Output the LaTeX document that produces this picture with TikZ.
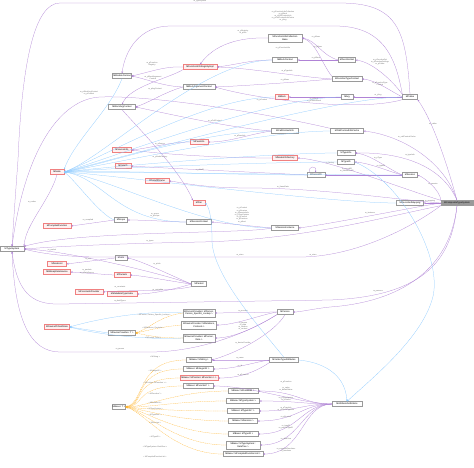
\documentclass[tikz,border=0pt]{standalone}
\usepackage{fontspec}
\setmainfont{Liberation Sans}
\usetikzlibrary{arrows.meta}
\definecolor{pcol}{HTML}{B083D6}
\definecolor{bcol}{HTML}{8CCBFF}
\definecolor{ycol}{HTML}{FFB733}
\definecolor{rbd}{HTML}{F08080}
\definecolor{rfill}{HTML}{FFF0F0}
\definecolor{nbd}{HTML}{9A9A9A}
\definecolor{gfill}{HTML}{999999}
\definecolor{lblc}{HTML}{707070}
\begin{document}
\begin{tikzpicture}[x=1pt,y=-1pt,
 nb/.style={draw=nbd,fill=white,line width=0.25pt,inner sep=0.3pt,minimum height=5pt,font={\fontsize{2.3}{2.7}\selectfont},align=center},
 rn/.style={nb,draw=rbd,fill=rfill},
 gn/.style={nb,draw=nbd,fill=gfill},
 pe/.style={draw=pcol,line width=0.25pt,-{Stealth[length=2pt,width=1.6pt]}},
 be/.style={draw=bcol,line width=0.25pt,-{Stealth[length=2pt,width=1.6pt]}},
 ye/.style={draw=ycol,line width=0.25pt,dash pattern=on 1.2pt off 0.6pt,-{Stealth[length=2pt,width=1.6pt]}},
 lbl/.style={font={\fontsize{1.9}{2.2}\selectfont},text=lblc,inner sep=0,align=center}]
\useasboundingbox[fill=white] (0,0) rectangle (474,467);

% ---------------- nodes ----------------
\node[nb,minimum width=19pt] (n1) at (122,76) {MModuleContext};
\node[rn,minimum width=34pt] (n2) at (200,67) {MFunctionInfoRegistryImpl};
\node[nb,minimum width=34pt,minimum height=8pt] (n3) at (285,38) {MFunctionInfoCollection\\Base};
\node[nb,minimum width=17pt] (n4) at (347,60) {MFunctionSet};
\node[nb,minimum width=25pt] (n5) at (285,60) {MBlockContext};
\node[nb,minimum width=30pt] (n6) at (347,79) {MFunctionTypeContext};
\node[nb,minimum width=32pt] (n7) at (199,87) {MBlockArgumentContext};
\node[nb,minimum width=27pt] (n8) at (122,107) {MBlockArgContext};
\node[rn,minimum width=13pt] (n9) at (282,97) {MBlock};
\node[nb,minimum width=12pt] (n10) at (347,97) {MArg};
\node[nb,minimum width=15pt] (n11) at (410,97) {MCallee};
\node[nb,minimum width=27pt] (n12) at (285,131) {MCallContextInfo};
\node[nb,minimum width=33pt] (n13) at (347,131) {MCallContextInfoCache};
\node[rn,minimum width=19pt] (n14) at (122,150) {MSourceInfo};
\node[rn,minimum width=18pt] (n15) at (199,142) {MPassInfo};
\node[nb,minimum width=18pt] (n16) at (346,153) {MTypeInfo};
\node[rn,minimum width=25pt] (n17) at (285,158) {MNodeInfoFactory};
\node[nb,minimum width=17pt] (n18) at (346,162) {MTypeID};
\node[rn,minimum width=14pt] (n19) at (57,172) {MNode};
\node[rn,minimum width=16pt] (n20) at (123,166) {MDataID};
\node[rn,minimum width=24pt] (n21) at (157,181) {MDataOfFrame};
\node[nb,minimum width=18pt] (n22) at (316,175) {MRecordID};
\node[nb,minimum width=15pt] (n23) at (410,175) {MSession};
\node[rn,minimum width=12pt] (n24) at (199,203) {MPair};
\node[nb,minimum width=27pt] (n25) at (410,203) {MRecordedMapping};
\node[gn,minimum width=32pt] (n26) at (457,203) {MCompositeTypeSystem};
\node[nb,minimum width=25pt] (n27) at (199,222) {MSessionContext};
\node[nb,minimum width=13pt] (n28) at (121,220) {MScope};
\node[nb,minimum width=27pt] (n29) at (285,228) {MSessionInstance};
\node[rn,minimum width=28pt] (n30) at (57,226) {MCompiledFunction};
\node[nb,minimum width=24pt] (n31) at (12,249) {MTypeSystem};
\node[nb,minimum width=12pt] (n32) at (121,258) {MLink};
\node[rn,minimum width=19pt] (n33) at (57,264) {MNodeList};
\node[rn,minimum width=27pt] (n34) at (57,272) {MBitmapDataSource};
\node[rn,minimum width=16pt] (n35) at (122,275) {MPackets};
\node[nb,minimum width=15pt] (n36) at (199,284) {MPacket};
\node[rn,minimum width=28pt] (n37) at (89,292) {MConstantsProvider};
\node[rn,minimum width=30pt] (n38) at (122,294) {MMetadataTypeIndex};
\node[nb,minimum width=16pt] (n39) at (285,312) {MPerson};
\node[nb,minimum width=32pt,minimum height=8pt] (n40) at (199,313) {MPersonProvider\textless{} MPerson,\\Person\_Specific\_Lookup \textgreater};
\node[nb,minimum width=35pt,minimum height=8pt] (n41) at (199,325) {MDeviceProvider\textless{} MRelations,\\Contexts \textgreater};
\node[nb,minimum width=32pt,minimum height=8pt] (n42) at (199,338) {MDeviceProvider\textless{} MPerson,\\Data \textgreater};
\node[rn,minimum width=25pt] (n43) at (57,327) {MDevicePtrFwdState};
\node[nb,minimum width=27pt] (n44) at (122,333) {MDeviceProvider\textless{} T \textgreater};
\node[nb,minimum width=29pt] (n45) at (284,360) {MVertexTypeAttributes};
\node[nb,minimum width=25pt] (n46) at (199,360) {MBase\textless{} MString \textgreater};
\node[nb,minimum width=30pt] (n47) at (198,369) {MBase\textless{} MInteger32 \textgreater};
\node[rn,minimum width=38pt] (n48) at (199,378) {MBase\textless{} MPointer\textless{} MFunction \textgreater{} \textgreater};
\node[nb,minimum width=30pt] (n49) at (198,386) {MBase\textless{} MFunction* \textgreater};
\node[nb,minimum width=30pt] (n50) at (243,391) {MBase\textless{} MDouble64 \textgreater};
\node[nb,minimum width=33pt] (n51) at (243,401) {MBase\textless{} MTypeSystem \textgreater};
\node[nb,minimum width=32pt] (n52) at (243,411) {MBase\textless{} MTypeInfo* \textgreater};
\node[nb,minimum width=29pt] (n53) at (243,421) {MBase\textless{} MSession \textgreater};
\node[nb,minimum width=30pt] (n54) at (243,434) {MBase\textless{} MTypeID \textgreater};
\node[nb,minimum width=34pt,minimum height=8pt] (n55) at (243,445) {MBase\textless{} MTypeSystem::\\DataTree \textgreater};
\node[nb,minimum width=40pt] (n56) at (243,454) {MBase\textless{} MCompiledFunctionList \textgreater};
\node[nb,minimum width=12pt] (n57) at (119,407) {MBase\textless{} T \textgreater};
\node[nb,minimum width=30pt] (n58) at (347,404) {MAttributeDefinitions};

% ---------------- top arcs ----------------
\draw[pe] (n11.north) .. controls (406,30) and (398,3) .. (340,3) -- (60,3) .. controls (35,3) and (22,60) .. (18,160) .. controls (15,200) and (13,230) .. (n31.north);
\node[lbl] at (200,1.3) {m\_typeSystem};
\draw[pe] (n11.north west) .. controls (396,60) and (385,26) .. (335,26) -- (170,26) .. controls (140,26) and (125,50) .. (n1.north);
\node[lbl] at (283,16) {m\_pFunctionInfoCollection\\m\_pBlock\\m\_pCallContextInfo\\m\_pCallContextInfoCache\\m\_pArg};
\draw[pe] (n11.north west) .. controls (392,80) and (372,62) .. (n4.east);
\node[lbl] at (380,62) {m\_pFunctionSet\\m\_pFunctionSetArgs\\m\_pCallee};
\draw[pe] (n11.west) .. controls (392,92) and (376,80) .. (n6.east);
\node[lbl] at (380,84) {m\_pFunctionType\\Context};
\draw[pe] (n11.west) -- (n10.east);
\node[lbl] at (378,95.5) {m\_pArg};
\draw[pe] (n10.west) -- (n9.east);
\node[lbl] at (314,100) {m\_pBlock\\m\_pParentBlock};
\draw[pe] (n11.south west) .. controls (360,112) and (260,100) .. (n7.east);
\node[lbl] at (262,100) {m\_pContext};
\draw[pe] (n4.west) .. controls (322,56) and (316,40) .. (n3.east);
\node[lbl] at (316,37) {m\_pBase};
\draw[pe] (n6.north west) .. controls (322,64) and (316,42) .. (n3.east);
\node[lbl] at (318,47) {m\_pBase};
\draw[pe] (n4.west) -- (n5.east);
\node[lbl] at (316,58.5) {m\_pBlock};
\draw[pe] (n3.west) .. controls (238,37) and (214,45) .. (n2.north);
\node[lbl] at (243,32) {m\_pRegistry\\m\_pInfo};
\draw[pe] (n6.west) .. controls (300,77) and (250,68) .. (n2.east);
\node[lbl] at (287,71) {m\_pTypeInfo};
\draw[pe] (n5.west) .. controls (250,60) and (240,64) .. (n2.east);
\node[lbl] at (283,48) {m\_pFunctionInfo};
\draw[pe] (n6.west) .. controls (300,82) and (240,86) .. (n7.east);
\node[lbl] at (285,80.5) {m\_pBase};
\draw[pe] (n2.west) .. controls (165,66) and (150,72) .. (n1.east);
\node[lbl] at (152,64) {m\_pFunction\\Registry};
\draw[pe] (n7.west) .. controls (162,86) and (150,80) .. (n1.east);
\node[lbl] at (153,77.5) {m\_pBlockArgument\\Context};
\draw[pe] (n7.west) .. controls (165,92) and (150,102) .. (n8.east);
\node[lbl] at (155,89) {m\_pArgContext};
\draw[pe] (n2.south west) .. controls (170,78) and (130,86) .. (n8.north);
\draw[pe] (n12.west) .. controls (230,128) and (160,112) .. (n8.east);
\node[lbl] at (215,121) {m\_pCallContext};
\draw[pe] (n13.north west) .. controls (260,112) and (150,95) .. (100,97) .. controls (60,99) and (25,150) .. (n31.north);
\node[lbl] at (89,93) {m\_pBlockArgContext\\m\_pContext};
\draw[pe] (n12.west) .. controls (250,134) and (230,142) .. (n15.east);
\node[lbl] at (240,136) {m\_pPassInfo};
\draw[pe] (n15.west) .. controls (170,142) and (150,148) .. (n14.east);
\node[lbl] at (160,144) {m\_pSource};
\draw[pe] (n17.west) .. controls (220,158) and (160,154) .. (n14.east);
\node[lbl] at (160,157.5) {m\_pNodeFactory};
\draw[pe] (n22.west) .. controls (250,172) and (160,168) .. (n20.east);
\node[lbl] at (200,170) {m\_dataID};
\draw[pe] (n8.south) .. controls (140,130) and (180,170) .. (n24.north west);

% ---------------- right part ----------------
\draw[pe] (n26.west) -- (n25.east);
\node[lbl] at (430,201) {m\_mapping};
\draw[pe] (n26.north west) .. controls (440,190) and (425,178) .. (n23.east);
\node[lbl] at (433,184) {m\_session};
\draw[pe] (n26.north) .. controls (446,160) and (432,120) .. (n11.south east);
\node[lbl] at (433,124) {m\_callee};
\draw[pe] (n26.north) .. controls (442,165) and (400,152) .. (n16.east);
\node[lbl] at (410,155) {m\_typeInfo};
\draw[pe] (n26.north) .. controls (444,160) and (400,135) .. (n13.east);
\node[lbl] at (407,137) {m\_callContextCache};
\draw[pe] (n23.west) .. controls (386,168) and (372,155) .. (n16.east);
\node[lbl] at (378,158) {m\_pType};
\draw[pe] (n23.west) .. controls (390,172) and (370,163) .. (n18.east);
\node[lbl] at (381,166) {m\_typeID};
\draw[pe] (n23.west) -- (n22.east);
\node[lbl] at (347,170) {m\_recordID\\m\_lastRecordID};
\draw[pe] ([xshift=-6pt]n22.north) .. controls +(-3,-7) and +(3,-7) .. ([xshift=-1pt]n22.north);
\draw[pe] (n26.north west) .. controls (400,188) and (330,160) .. (n17.east);
\node[lbl] at (330,163) {m\_factory};
\draw[pe] (n26.west) .. controls (400,200) and (320,188) .. (250,188) .. controls (200,188) and (180,182) .. (n21.east);
\node[lbl] at (283,187) {m\_frameData};
\draw[pe] (n26.west) .. controls (420,206) and (330,224) .. (n29.east);
\node[lbl] at (370,213) {m\_instance};
\draw[pe] (n29.west) -- (n27.east);
\node[lbl] at (242,215) {m\_pContext\\m\_pSession\\m\_pSessionInfo\\m\_pTypeSystem\\m\_pCurrent\\m\_pPrevious\\m\_pNext};
\draw[pe] (n27.west) .. controls (170,222) and (150,220) .. (n28.east);
\node[lbl] at (155,215) {m\_scope\\m\_pScope};
\draw[pe] (n28.west) -- (n30.east);
\node[lbl] at (88,220) {m\_compiled};
\draw[pe] (n19.south) .. controls (50,200) and (25,225) .. (n31.north east);
\node[lbl] at (32,202) {m\_nodes};
\draw[pe] (n29.west) .. controls (250,234) and (80,230) .. (n31.north east);
\draw[pe] (n26.south west) .. controls (380,218) and (300,240) .. (200,242) .. controls (100,244) and (50,247) .. (n31.east);
\node[lbl] at (150,241) {m\_types};
\draw[pe] (n26.south west) .. controls (405,232) and (350,257) .. (300,257) -- (100,257) .. controls (60,257) and (35,252) .. (n31.east);
\node[lbl] at (240,255) {m\_sizes};
\node[lbl] at (313,255) {m\_sizes};

% ---------------- middle left ----------------
\draw[pe] (n36.west) .. controls (150,270) and (60,250) .. (n31.east);
\node[lbl] at (52,250) {m\_packet};
\draw[pe] (n32.west) -- (n33.east);
\node[lbl] at (88,258.5) {m\_link};
\draw[pe] (n36.west) .. controls (172,276) and (140,260) .. (n32.east);
\node[lbl] at (157,264) {m\_pLink};
\draw[pe] (n35.west) -- (n34.east);
\node[lbl] at (87,271.5) {m\_packets\\m\_pDataSource};
\draw[pe] (n36.south west) .. controls (170,292) and (120,290) .. (n37.east);
\node[lbl] at (120,287) {m\_constants};
\draw[pe] (n36.west) .. controls (172,290) and (150,294) .. (n38.east);
\node[lbl] at (158,290) {m\_metadata};
\draw[pe] (n36.west) .. controls (175,282) and (145,276) .. (n35.east);
\draw[pe] (n26.south) .. controls (452,255) and (430,296) .. (330,300) -- (60,304) .. controls (30,305) and (17,290) .. (n31.south);
\node[lbl] at (120,301) {m\_dataTypes};
\draw[pe] (n26.south) .. controls (450,270) and (400,302) .. (330,307) .. controls (312,309) and (300,312) .. (n39.east);
\node[lbl] at (378,291) {m\_persons};
\draw[pe] (n39.south west) .. controls (250,332) and (200,352) .. (150,352) -- (60,352) .. controls (30,352) and (15,320) .. (n31.south);
\node[lbl] at (120,349.5) {m\_person};

% ---------------- provider part ----------------
\draw[pe] (n39.west) -- (n40.east);
\node[lbl] at (243,311) {m\_provider};
\draw[pe] (n39.west) .. controls (260,315) and (235,325) .. (n41.east);
\node[lbl] at (243,326) {m\_person\\m\_data\\m\_relation\\m\_context};
\draw[pe] (n39.south west) .. controls (260,325) and (235,338) .. (n42.east);
\node[lbl] at (243,343) {m\_deviceProvider};
\draw[pe] (n39.south) .. controls (275,332) and (240,352) .. (n46.east);
\draw[be] (n40.west) .. controls (150,310) and (100,318) .. (n43.east);
\draw[be] (n44.west) -- (n43.east);
\draw[be] (n42.west) .. controls (150,340) and (100,335) .. (n43.east);
\draw[ye] (n40.west) .. controls (160,316) and (150,328) .. (n44.east);
\node[lbl] at (154,315) {\textless{} MPerson, Person\_Specific\_Lookup \textgreater};
\draw[ye] (n41.west) .. controls (160,327) and (150,330) .. (n44.east);
\node[lbl] at (153,328) {\textless{} MRelations, Contexts \textgreater};
\draw[ye] (n42.west) .. controls (160,338) and (150,336) .. (n44.east);
\node[lbl] at (153,338) {\textless{} MPerson, Data \textgreater};

% ---------------- blue into hub ----------------
\draw[be] (n1.south) .. controls (110,110) and (75,140) .. (n19.north east);
\foreach \s/\dy in {n9/-15,n5/-14,n10/-12,n11/-10,n12/-8,n13/-7,n16/-5,n18/-4,n22/-2,n23/0,n25/2,n29/4,n27/6}
  \draw[be] (\s.west) .. controls +(-70,0) and +(40,\dy) .. (n19.east);
\draw[be] (n28.west) .. controls (100,215) and (75,180) .. (n19.east);

% ---------------- blue to bottom right ----------------
\draw[be] (n18.east) .. controls (400,180) and (445,260) .. (432,300) .. controls (420,340) and (370,380) .. (n58.north);
\draw[be] (n45.east) .. controls (320,362) and (345,372) .. (n58.north);
\draw[be] (n45.north) .. controls (262,330) and (212,275) .. (212,240) .. controls (212,222) and (210,208) .. (n24.east);

% ---------------- attribute definitions ----------------
\draw[pe] (n45.west) .. controls (255,360) and (230,360) .. (n46.east);
\node[lbl] at (240,358) {m\_name};
\draw[pe] (n45.west) .. controls (255,362) and (235,369) .. (n47.east);
\node[lbl] at (240,366) {m\_id};
\draw[pe] (n45.south west) .. controls (255,372) and (240,378) .. (n48.east);
\node[lbl] at (243,375) {m\_pFunction};
\foreach \t/\ly/\lt in {n49/382/{m\_pFunction}, n50/389/{m\_value\\m\_defaultValue}, n51/399/{m\_pTypeSystem\\m\_pOwner}, n52/409/{m\_pTypeInfo\\m\_pParentTypeInfo}, n53/417/{m\_pSession}, n54/427/{m\_typeID\\m\_parentTypeID}, n55/439/{m\_dataTree}, n56/450/{m\_compiledFunctions\\m\_functions}}{
  \draw[pe] (n58.west) .. controls +(-30,0) and +(40,0) .. (\t.east);
  \node[lbl] at (286,\ly) {\lt};
}

% ---------------- template instances ----------------
\foreach \t/\dy/\ly/\lt in {n46/-6/357/{\textless{} MString \textgreater}, n47/-4/371/{\textless{} MInteger32 \textgreater}, n48/-2/383/{\textless{} MPointer\textless{} MFunction \textgreater{} \textgreater}, n49/-1/394/{\textless{} MFunction* \textgreater}, n50/0/403/{\textless{} MDouble64 \textgreater}, n51/1/409/{\textless{} MTypeSystem \textgreater}, n52/2/415/{\textless{} MTypeInfo* \textgreater}, n53/3/423/{\textless{} MSession \textgreater}, n54/4/437/{\textless{} MTypeID \textgreater}, n55/5/447/{\textless{} MTypeSystem::DataTree \textgreater}, n56/6/457/{\textless{} MCompiledFunctionList \textgreater}}{
  \draw[ye] (\t.west) .. controls +(-50,0) and +(20,\dy) .. (n57.east);
  \node[lbl] at (155,\ly) {\lt};
}
\end{tikzpicture}
\end{document}
